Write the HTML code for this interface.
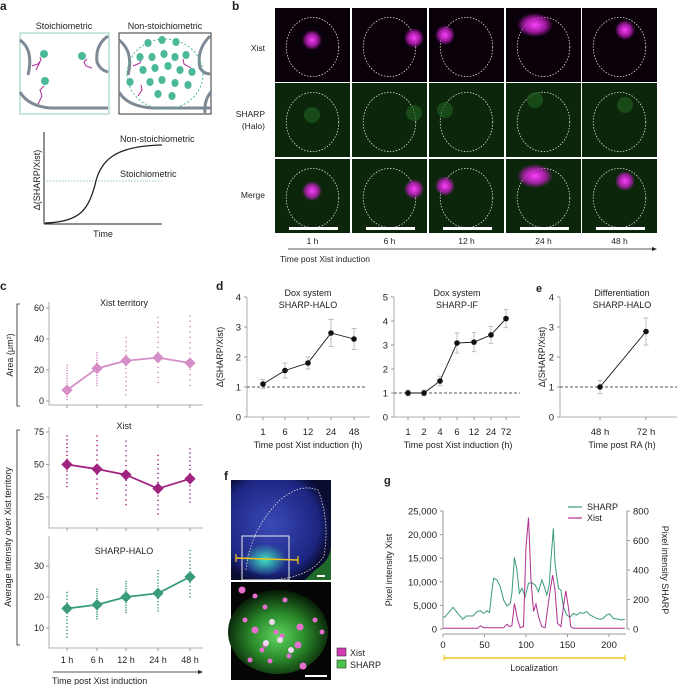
<!DOCTYPE html>
<html><head><meta charset="utf-8"><style>
body{margin:0;background:#fff}
svg{display:block;font-family:"Liberation Sans",sans-serif;}
text{fill:#222}
</style></head><body>
<svg id="fig" width="677" height="685" viewBox="0 0 677 685" xmlns="http://www.w3.org/2000/svg">
<defs>
<radialGradient id="gGreen" cx="50%" cy="55%" r="55%"><stop offset="0" stop-color="#5fd55f"/><stop offset="0.5" stop-color="#2a8a2a"/><stop offset="1" stop-color="#061806"/></radialGradient>
<radialGradient id="gBlue" cx="40%" cy="45%" r="60%"><stop offset="0" stop-color="#3a4ab8"/><stop offset="0.8" stop-color="#1c2580"/><stop offset="1" stop-color="#0a0c30"/></radialGradient>
<radialGradient id="gSpot" cx="50%" cy="50%" r="50%"><stop offset="0" stop-color="#40e0c0"/><stop offset="1" stop-color="#40e0c0" stop-opacity="0"/></radialGradient>
<radialGradient id="gMag" cx="50%" cy="50%" r="50%"><stop offset="0" stop-color="#ff40ff"/><stop offset="0.6" stop-color="#c020c0" stop-opacity="0.8"/><stop offset="1" stop-color="#c020c0" stop-opacity="0"/></radialGradient>
</defs>

<!-- Panel a -->
<g>
<text x="0" y="10" font-size="12" font-weight="bold">a</text>
<text x="64" y="29" font-size="9" text-anchor="middle">Stoichiometric</text>
<text x="165" y="29" font-size="9" text-anchor="middle">Non-stoichiometric</text>
<rect x="20" y="33" width="89" height="81" fill="#fff" stroke="#8ccbb8" stroke-width="1"/>
<rect x="119" y="33" width="92" height="81" fill="#fff" stroke="#333" stroke-width="1"/>
<g fill="none" stroke="#7d8a96" stroke-width="3">
<path d="M20 40 Q34 50 28 75"/><path d="M108 36 Q95 45 97 62 Q100 70 108 72"/><path d="M20 92 Q28 106 50 108 L108 108"/>
<path d="M119 40 Q134 52 128 75"/><path d="M210 36 Q196 50 200 68 Q204 74 210 74"/><path d="M119 92 Q127 106 152 108 L211 108"/><path d="M211 92 Q204 100 205 113"/>
</g>
<g fill="#4cb89a">
<circle cx="44" cy="54" r="4"/><circle cx="82" cy="56" r="4"/><circle cx="45" cy="81" r="4"/>
</g>
<g fill="none" stroke="#b02a9a" stroke-width="1">
<path d="M32 66 L38 64 L41 60 L40 57 M36 70 L40 62"/><path d="M92 68 L86 66 L84 62 L87 59"/><path d="M38 104 L42 96 L40 90 L44 86"/>
<path d="M133 66 L140 63 L142 58"/><path d="M191 68 L184 64 L183 59"/><path d="M138 96 L142 90 L141 85"/>
</g>
<ellipse cx="165" cy="74" rx="38" ry="35" fill="none" stroke="#4cb89a" stroke-dasharray="2,2" stroke-width="1"/>
<g fill="#4cb89a" id="dropletsNS"></g>
<line x1="44" y1="132" x2="44" y2="224" stroke="#222" stroke-width="1"/>
<line x1="44" y1="224" x2="162" y2="224" stroke="#222" stroke-width="1"/>
<line x1="44" y1="181" x2="162" y2="181" stroke="#8ccbb8" stroke-dasharray="1.5,1.5" stroke-width="1"/>
<path d="M45 223 C80 222 88 210 95 185 C100 160 115 146 162 145" fill="none" stroke="#222" stroke-width="1.3"/>
<text x="120" y="142" font-size="9">Non-stoichiometric</text>
<text x="120" y="177" font-size="9">Stoichiometric</text>
<text x="103" y="237" font-size="9" text-anchor="middle">Time</text>
<text transform="translate(40,180) rotate(-90)" font-size="9" text-anchor="middle">Δ(SHARP/Xist)</text>
</g>

<!-- Panel b -->
<g id="panelB">
<text x="232" y="10" font-size="12" font-weight="bold">b</text>
<text x="265" y="51" font-size="8.5" text-anchor="end">Xist</text>
<text x="265" y="117" font-size="8.5" text-anchor="end">SHARP</text>
<text x="265" y="129" font-size="8.5" text-anchor="end">(Halo)</text>
<text x="265" y="198" font-size="8.5" text-anchor="end">Merge</text>
<line x1="288" y1="249" x2="655" y2="249" stroke="#222" stroke-width="0.8"/>
<path d="M657 249 L652 247 L652 251 Z" fill="#222"/>
<text x="280" y="262" font-size="8.5">Time post Xist induction</text>
</g>

<!-- Panel c -->
<g id="panelC">
<text x="0" y="290" font-size="12" font-weight="bold">c</text>
<path d="M20 304 L17 304 L17 406 L20 406" fill="none" stroke="#222" stroke-width="0.8"/>
<path d="M20 430 L17 430 L17 645 L20 645" fill="none" stroke="#222" stroke-width="0.8"/>
<text transform="translate(13,355) rotate(-90)" font-size="9" text-anchor="middle">Area (μm²)</text>
<text transform="translate(11,537) rotate(-90)" font-size="9" text-anchor="middle">Average intensity over Xist territory</text>
<line x1="53" y1="672" x2="200" y2="672" stroke="#222" stroke-width="0.8"/>
<path d="M203 672 L198 670 L198 674 Z" fill="#222"/>
<text x="52" y="684" font-size="9">Time post Xist induction</text>
</g>

<!-- Panel d, e -->
<g id="panelD">
<text x="216" y="290" font-size="12" font-weight="bold">d</text>
<text transform="translate(223,357) rotate(-90)" font-size="9" text-anchor="middle">Δ(SHARP/Xist)</text>
</g>
<g id="panelE">
<text x="536" y="292" font-size="11" font-weight="bold">e</text>
<text transform="translate(545,357) rotate(-90)" font-size="9" text-anchor="middle">Δ(SHARP/Xist)</text>
</g>

<!-- Panel f -->
<g id="panelF">
<text x="224" y="480" font-size="12" font-weight="bold">f</text>
<rect x="231" y="480" width="100" height="100" fill="url(#gBlue)"/>
<path d="M315 570 Q331 560 331 545 L331 580 L305 580 Z" fill="#1f6a2a"/>
<ellipse cx="265" cy="560" rx="22" ry="16" fill="url(#gSpot)"/>
<path d="M246 570 Q250 530 280 500 Q300 483 318 490 Q330 520 324 556 Q310 578 270 580" fill="none" stroke="#ddd" stroke-dasharray="1.5,1.5" stroke-width="0.8"/>
<rect x="242" y="536" width="47" height="44" fill="none" stroke="#eee" stroke-width="1"/>
<line x1="236" y1="558" x2="298" y2="560" stroke="#f0c419" stroke-width="1.5"/>
<line x1="236" y1="554" x2="236" y2="562" stroke="#f0c419" stroke-width="1.2"/><line x1="298" y1="556" x2="298" y2="564" stroke="#f0c419" stroke-width="1.2"/>
<rect x="317" y="575" width="8" height="2" fill="#fff"/>
<rect x="231" y="582" width="100" height="98" fill="#050505"/>
<ellipse cx="278" cy="632" rx="50" ry="42" fill="url(#gGreen)"/>
<g id="fDots"></g>
<rect x="305" y="675" width="22" height="2" fill="#fff"/>
<rect x="337" y="648" width="9" height="8" fill="#d23bb4" stroke="#333" stroke-width="0.6"/>
<text x="350" y="656" font-size="9">Xist</text>
<rect x="337" y="660" width="9" height="8" fill="#4cc24c" stroke="#333" stroke-width="0.6"/>
<text x="350" y="668" font-size="9">SHARP</text>
</g>

<!-- Panel g -->
<g id="panelG">
<text x="384" y="484" font-size="11" font-weight="bold">g</text>
<text transform="translate(392,570) rotate(-90)" font-size="9" text-anchor="middle">Pixel intensity Xist</text>
<text transform="translate(662,570) rotate(90)" font-size="9" text-anchor="middle">Pixel intensity SHARP</text>
<line x1="444" y1="658" x2="625" y2="658" stroke="#f0c419" stroke-width="1.5"/>
<line x1="444" y1="655" x2="444" y2="661" stroke="#f0c419"/><line x1="625" y1="655" x2="625" y2="661" stroke="#f0c419"/>
<text x="534" y="671" font-size="9" text-anchor="middle">Localization</text>
<line x1="568" y1="507" x2="582" y2="507" stroke="#3a9a7c" stroke-width="1.2"/>
<text x="587" y="510" font-size="9">SHARP</text>
<line x1="568" y1="518" x2="582" y2="518" stroke="#b0308f" stroke-width="1.2"/>
<text x="587" y="521" font-size="9">Xist</text>
</g>
</svg>
<script>
// ---------- Data ----------
const cCategories = ["1 h","6 h","12 h","24 h","48 h"];
const cAreaMeans = [7, 21, 26, 28, 24.5];
const cXistMeans = [50, 46.5, 42, 31.5, 39];
const cSharpMeans = [16.3, 17.5, 20, 21.2, 26.5];
const cAreaRange = [[1,23],[10,31],[4,41],[12,54],[10,55]];
const cXistRange = [[33,72],[24,72],[19,68],[12,57],[21,62]];
const cSharpRange = [[7,21.5],[13,22.5],[15,25],[15.5,28.5],[20,35]];

const d1Categories = ["1","6","12","24","48"];
const d1Values = [1.1, 1.55, 1.8, 2.8, 2.6];
const d1Errors = [0.15, 0.25, 0.2, 0.45, 0.35];
const d2Categories = ["1","2","4","6","12","24","72"];
const d2Values = [1.0, 1.0, 1.5, 3.08, 3.12, 3.42, 4.1];
const d2Errors = [0.12, 0.12, 0.2, 0.42, 0.4, 0.35, 0.38];
const eCategories = ["48 h","72 h"];
const eValues = [1.0, 2.85];
const eErrors = [0.22, 0.45];

const gSharpX = [0,2,6,12,18,24,28,36,41,45,49,53,56,59,61,65,69,73,77,81,83,86,89,92,95,99,103,107,111,115,119,122,125,128,130,133,135,139,142,145,149,153,157,161,165,169,173,177,181,185,189,193,197,201,205,211,215,219];
const gSharpY = [84,79,106,147,106,66,88,88,118,124,106,124,111,264,344,332,287,197,156,174,242,486,400,242,276,219,310,314,298,253,332,287,231,298,468,683,445,276,264,151,95,79,106,95,111,106,118,95,84,72,66,72,95,102,72,66,61,66];
const gXistX = [0,42,45,49,73,77,80,83,86,90,93,97,100,103,106,109,112,115,119,123,128,132,135,138,142,145,148,151,154,157,219];
const gXistY = [140,140,700,280,280,990,500,700,5400,1900,280,500,17400,23600,10400,3700,5300,2600,500,280,6800,11400,8300,1200,500,4700,8100,4700,500,140,140];
const gLeftTicks = [0,5000,10000,15000,20000,25000];
const gRightTicks = [0,200,400,600,800];
const gXTicks = [0,50,100,150,200];

const NS="http://www.w3.org/2000/svg";
function mk(parent, tag, attrs, txt){const e=document.createElementNS(NS,tag);for(const k in attrs)e.setAttribute(k,attrs[k]);if(txt!==undefined)e.textContent=txt;parent.appendChild(e);return e;}
function lin(d0,d1,r0,r1){return v=>r0+(v-d0)/(d1-d0)*(r1-r0);}

// schematic droplets
const dropG=document.getElementById('dropletsNS');
[[148,43],[162,40],[176,42],[152,57],[164,54],[175,57],[186,55],[143,70],[155,68],[168,66],[180,70],[192,72],[150,82],[162,80],[175,83],[188,85],[158,94],[172,96],[130,82],[140,57]].forEach(p=>mk(dropG,'ellipse',{cx:p[0],cy:p[1],rx:3.6,ry:4}));

// ---------- Panel b images ----------
const B=document.getElementById('panelB');
const colX=[275,352,429,506,582], rowY=[8,83,159], cw=75, ch=74;
const bTimes=["1 h","6 h","12 h","24 h","48 h"];
const blob=[[312,40],[414,38],[445,35],[535,25],[625,30]];
colX.forEach((x,ci)=>{
 rowY.forEach((y,ri)=>{
  const im=mk(B,'rect',{x:x,y:y,width:cw,height:ch,fill: ri===0?'#0a000a':'#0b260b'});
  
  
  mk(B,'ellipse',{cx:x+cw/2,cy:y+ch/2+2,rx:cw*0.35,ry:ch*0.4,fill:'none',stroke:'#ddd','stroke-dasharray':'1.5,1.5','stroke-width':0.8});
  const bx=blob[ci][0], by=blob[ci][1]+ (y-8);
  if(ri!==1) mk(B,'ellipse',{cx:bx,cy:by,rx:ci===3?18:10,ry:ci===3?12:10,fill:'url(#gMag)'});
  else mk(B,'ellipse',{cx:bx,cy:by,rx:8,ry:8,fill:'#1e5a1e',opacity:0.7});
  if(ri===2) mk(B,'rect',{x:x+14,y:y+ch-6,width:cw-26,height:3,fill:'#fff'});
 });
 const t=mk(B,'text',{x:x+cw/2,y:244,'font-size':8.5,'text-anchor':'middle'},bTimes[ci]);
 
 
});

// ---------- Panel c ----------
const C=document.getElementById('panelC');
const cx=[67,97,126,158,190];
// tA/vA: pixel & value of top tick, tB/vB: pixel & value of bottom tick; axTop/axBot: axis extents
function cPlot(tA,vA,tB,vB,axTop,axBot,ticks,means,ranges,color,title,titleY,showX){
 const y=lin(vB,vA,tB,tA);
 const ax=mk(C,'path',{d:`M49 ${axTop} L49 ${axBot} L203 ${axBot}`,fill:'none',stroke:'#999','stroke-width':0.8});
 
 
 ticks.forEach(t=>{mk(C,'line',{x1:46,x2:49,y1:y(t),y2:y(t),stroke:'#999'});
  const tl=mk(C,'text',{x:44,y:y(t)+3,'font-size':9,'text-anchor':'end'},String(t));
  
  });
 cx.forEach(x=>mk(C,'line',{x1:x,x2:x,y1:axBot,y2:axBot+3,stroke:'#999'}));
 mk(C,'text',{x:124,y:titleY,'font-size':9,'text-anchor':'middle'},title);
 means.forEach((m,i)=>{const [lo,hi]=ranges[i];
  for(let k=0;k<14;k++){const v=lo+(hi-lo)*k/13;
   const d=mk(C,'rect',{x:cx[i]-1,y:y(v)-0.6,width:2,height:1.2,fill:color,opacity:0.8});
   
   }
 });
 let p='';means.forEach((m,i)=>p+=(i?'L':'M')+cx[i]+' '+y(m));
 const ln=mk(C,'path',{d:p,fill:'none',stroke:color,'stroke-width':1.8});
 
 
 means.forEach((m,i)=>{const mm=mk(C,'rect',{x:cx[i]-4,y:y(m)-4,width:8,height:8,fill:color,transform:`rotate(45 ${cx[i]} ${y(m)})`});
  
  });
 if(showX) cCategories.forEach((c,i)=>{const t=mk(C,'text',{x:cx[i],y:663,'font-size':9,'text-anchor':'middle'},c);
  
  });
}
cPlot(308,60,401,0,302,405,[0,20,40,60],cAreaMeans,cAreaRange,'#d58fc6','Xist territory',306,false);
cPlot(432,75,497,25,427,528,[75,50,25],cXistMeans,cXistRange,'#a0237f','Xist',429,false);
cPlot(566,30,628,10,536,648,[30,20,10],cSharpMeans,cSharpRange,'#3a9a7c','SHARP-HALO',554,true);

// ---------- Panels d & e ----------
function linePanel(G,axX,axEnd,xs,cats,vals,errs,d0,d1,bottom,top,ticks,titleLines,titleX,xlabel,xlabelX,dashEnd,nm){
 const y=lin(d0,d1,bottom,top);
 mk(G,'path',{d:`M${axX} ${top} L${axX} ${bottom} L${axEnd} ${bottom}`,fill:'none',stroke:'#999','stroke-width':0.8});
 ticks.forEach(t=>{mk(G,'line',{x1:axX-3,x2:axX,y1:y(t),y2:y(t),stroke:'#999'});
  const tl=mk(G,'text',{x:axX-6,y:y(t)+3.5,'font-size':9.5,'text-anchor':'end'},String(t));
  
  });
 mk(G,'line',{x1:axX,x2:dashEnd,y1:y(1),y2:y(1),stroke:'#555','stroke-dasharray':'3,2','stroke-width':0.9});
 titleLines.forEach((t,i)=>mk(G,'text',{x:titleX,y:296+i*12,'font-size':9,'text-anchor':'middle'},t));
 const xl=mk(G,'text',{x:xlabelX,y:448,'font-size':9,'text-anchor':'middle'},xlabel);
 
 
 let p='';
 vals.forEach((v,i)=>{p+=(i?'L':'M')+xs[i]+' '+y(v);
  const eb=mk(G,'path',{d:`M${xs[i]} ${y(v-errs[i])} L${xs[i]} ${y(v+errs[i])} M${xs[i]-2.5} ${y(v-errs[i])} L${xs[i]+2.5} ${y(v-errs[i])} M${xs[i]-2.5} ${y(v+errs[i])} L${xs[i]+2.5} ${y(v+errs[i])}`,stroke:'#bbb','stroke-width':0.9,fill:'none'});
  
  
  mk(G,'line',{x1:xs[i],x2:xs[i],y1:bottom,y2:bottom+3,stroke:'#999'});
  const tl=mk(G,'text',{x:xs[i],y:435,'font-size':9.5,'text-anchor':'middle'},cats[i]);
  
  
 });
 const ln=mk(G,'path',{d:p,fill:'none',stroke:'#111','stroke-width':0.9});
 
 
 vals.forEach((v,i)=>{const pt=mk(G,'circle',{cx:xs[i],cy:y(v),r:2.8,fill:'#111'});
  
  });
}
const D=document.getElementById('panelD'), E=document.getElementById('panelE');
linePanel(D,247,370,[263,285,308,331,354],d1Categories,d1Values,d1Errors,0,4,417,297,[0,1,2,3,4],["Dox system","SHARP-HALO"],308,"Time post Xist induction (h)",308,365,'d-halo');
linePanel(D,394,520,[408,424,440,457,474,491,506],d2Categories,d2Values,d2Errors,0,5,417,297,[0,1,2,3,4,5],["Dox system","SHARP-IF"],457,"Time post Xist induction (h)",458,520,'d-if');
linePanel(E,560,677,[600,646],eCategories,eValues,eErrors,0,4,417,297,[0,1,2,3,4],["Differentiation","SHARP-HALO"],622,"Time post RA (h)",622,677,'e');

// ---------- Panel f dots ----------
const F=document.getElementById('fDots');
[[242,590],[255,596],[265,607],[282,636],[300,627],[262,650],[250,660],[289,656],[298,645],[315,620],[322,632],[270,661],[303,666],[276,632],[265,645],[285,600],[255,630],[245,620]].forEach((p,i)=>mk(F,'circle',{cx:p[0],cy:p[1],r:i%4===0?3.5:2.5,fill:'#e46fcf'}));
[[272,622],[266,643],[291,650],[280,640]].forEach(p=>mk(F,'circle',{cx:p[0],cy:p[1],r:3,fill:'#f0d8f0'}));

// ---------- Panel g ----------
const G=document.getElementById('panelG');
const gx=lin(0,200,443,609), gyL=lin(0,25000,629,511), gyR=lin(0,800,629,511);
mk(G,'path',{d:'M443 511 L443 629',stroke:'#999',fill:'none'});
mk(G,'path',{d:'M627 511 L627 629',stroke:'#999',fill:'none'});
mk(G,'path',{d:'M443 634 L626 634',stroke:'#999',fill:'none'});
gLeftTicks.forEach(t=>{mk(G,'line',{x1:440,x2:443,y1:gyL(t),y2:gyL(t),stroke:'#999'});
 const tl=mk(G,'text',{x:437,y:gyL(t)+3.5,'font-size':9.5,'text-anchor':'end'},t.toLocaleString('en-US'));
 
 });
gRightTicks.forEach(t=>{mk(G,'line',{x1:627,x2:630,y1:gyR(t),y2:gyR(t),stroke:'#999'});
 const tl=mk(G,'text',{x:633,y:gyR(t)+3.5,'font-size':9.5},String(t));
 
 });
gXTicks.forEach(t=>{mk(G,'line',{x1:gx(t),x2:gx(t),y1:634,y2:637,stroke:'#999'});
 const tl=mk(G,'text',{x:gx(t),y:648,'font-size':9.5,'text-anchor':'middle'},String(t));
 
 });
let ps='';gSharpX.forEach((x,i)=>ps+=(i?'L':'M')+gx(x).toFixed(1)+' '+gyR(gSharpY[i]).toFixed(1));
const sl=mk(G,'path',{d:ps,fill:'none',stroke:'#3a9a7c','stroke-width':1});


let px='';gXistX.forEach((x,i)=>px+=(i?'L':'M')+gx(x).toFixed(1)+' '+gyL(gXistY[i]).toFixed(1));
const xl=mk(G,'path',{d:px,fill:'none',stroke:'#b0308f','stroke-width':1});


</script>
</body></html>
